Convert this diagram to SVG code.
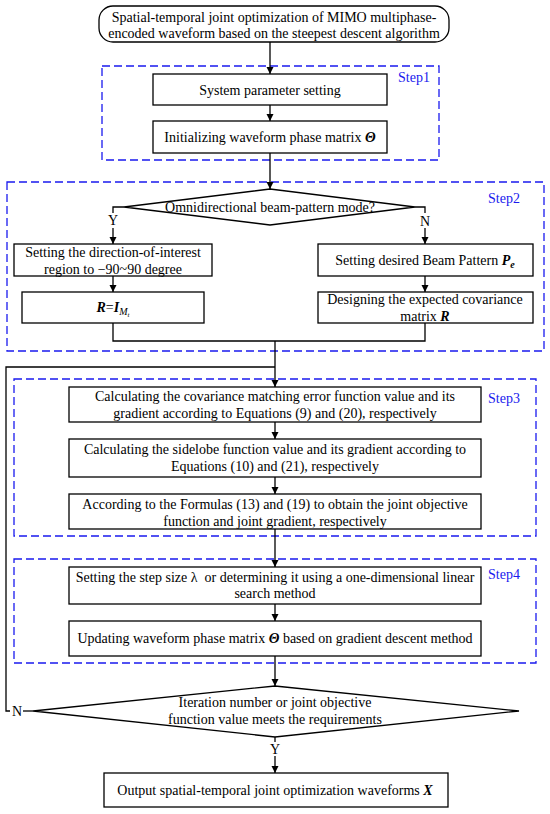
<svg xmlns="http://www.w3.org/2000/svg" width="550" height="814" viewBox="0 0 550 814">
<style>
text{font-family:"Liberation Serif","Times New Roman",serif;font-size:14px;fill:#000;text-anchor:middle}
.box{fill:#fff;stroke:#000;stroke-width:1.3}
.step{fill:none;stroke:#1a1aee;stroke-width:1.3;stroke-dasharray:8,4}
.lbl{fill:#1a1aee;font-size:14px}
.ln{fill:none;stroke:#000;stroke-width:1.3}
.bi{font-weight:bold;font-style:italic}
.it{font-style:italic}
</style>
<defs>
<marker id="ah" viewBox="0 0 10 10" refX="10" refY="5" markerWidth="7" markerHeight="8" markerUnits="userSpaceOnUse" orient="auto">
<path d="M0,0 L10,5 L0,10 z" fill="#000"/>
</marker>
</defs>
<rect width="550" height="814" fill="#fff"/>
<g id="steps">
<rect class="step" x="102" y="66" width="337" height="94"/>
<text class="lbl" x="414" y="82">Step1</text>
<rect class="step" x="7" y="182" width="537" height="169"/>
<text class="lbl" x="504" y="203">Step2</text>
<rect class="step" x="14" y="379" width="522" height="157"/>
<text class="lbl" x="504" y="403">Step3</text>
<rect class="step" x="14" y="559" width="522" height="104"/>
<text class="lbl" x="504" y="579">Step4</text>
</g>
<g id="connectors">
<line class="ln" x1="270" y1="42" x2="270" y2="74" marker-end="url(#ah)"/>
<line class="ln" x1="270" y1="105" x2="270" y2="121" marker-end="url(#ah)"/>
<line class="ln" x1="270" y1="153" x2="270" y2="189" marker-end="url(#ah)"/>
<polyline class="ln" points="124,207 113,207 113,213"/>
<line class="ln" x1="113" y1="228" x2="113" y2="244" marker-end="url(#ah)"/>
<polyline class="ln" points="415,207 425,207 425,213"/>
<line class="ln" x1="425" y1="228" x2="425" y2="244" marker-end="url(#ah)"/>
<line class="ln" x1="113" y1="276" x2="113" y2="292" marker-end="url(#ah)"/>
<line class="ln" x1="425" y1="276" x2="425" y2="292" marker-end="url(#ah)"/>
<polyline class="ln" points="113,323 113,341 425,341 425,323"/>
<line class="ln" x1="275" y1="341" x2="275" y2="387" marker-end="url(#ah)"/>
<polyline class="ln" points="10,711 6,711 6,367 275,367"/>
<line class="ln" x1="23" y1="711" x2="33" y2="711"/>
<line class="ln" x1="275" y1="422" x2="275" y2="439" marker-end="url(#ah)"/>
<line class="ln" x1="275" y1="477" x2="275" y2="494" marker-end="url(#ah)"/>
<line class="ln" x1="275" y1="529" x2="275" y2="567" marker-end="url(#ah)"/>
<line class="ln" x1="275" y1="604" x2="275" y2="621" marker-end="url(#ah)"/>
<line class="ln" x1="275" y1="656" x2="275" y2="686" marker-end="url(#ah)"/>
<line class="ln" x1="275" y1="737" x2="275" y2="742"/>
<line class="ln" x1="275" y1="756" x2="275" y2="773" marker-end="url(#ah)"/>
<text x="113" y="225">Y</text>
<text x="425" y="226">N</text>
<text x="17" y="716">N</text>
<text x="275" y="754">Y</text>
</g>
<g id="start">
<rect class="box" x="99" y="6" width="350" height="36" rx="14" ry="14"/>
<text x="274" y="22">Spatial-temporal joint optimization of MIMO multiphase-</text>
<text x="274" y="38">encoded waveform based on the steepest descent algorithm</text>
</g>
<g id="sysparam">
<rect class="box" x="153" y="74" width="234" height="31"/>
<text x="270" y="95">System parameter setting</text>
</g>
<g id="init">
<rect class="box" x="153" y="121" width="234" height="32"/>
<text x="270" y="142">Initializing waveform phase matrix <tspan class="bi">Θ</tspan></text>
</g>
<g id="omni">
<polygon class="box" points="124,207 270,189 415,207 270,225"/>
<text x="270" y="212">Omnidirectional beam-pattern mode?</text>
</g>
<g id="doi">
<rect class="box" x="14" y="244" width="198" height="32"/>
<text x="113" y="257">Setting the direction-of-interest</text>
<text x="113" y="274">region to −90~90 degree</text>
</g>
<g id="rim">
<rect class="box" x="22" y="292" width="182" height="31"/>
<text x="113" y="312"><tspan class="bi">R</tspan>=<tspan class="bi">I</tspan><tspan class="it" font-size="10" dy="3">M</tspan><tspan class="it" font-size="7" dy="2">t</tspan></text>
</g>
<g id="beampattern">
<rect class="box" x="318" y="244" width="215" height="32"/>
<text x="425" y="265">Setting desired Beam Pattern <tspan class="bi">P</tspan><tspan class="bi" font-size="10" dy="3">e</tspan></text>
</g>
<g id="covmatrix">
<rect class="box" x="318" y="292" width="215" height="31"/>
<text x="425" y="304">Designing the expected covariance</text>
<text x="425" y="321">matrix <tspan class="bi">R</tspan></text>
</g>
<g id="calc1">
<rect class="box" x="69" y="387" width="412" height="35"/>
<text x="275" y="401">Calculating the covariance matching error function value and its</text>
<text x="275" y="418">gradient according to Equations (9) and (20), respectively</text>
</g>
<g id="calc2">
<rect class="box" x="69" y="439" width="412" height="38"/>
<text x="275" y="454">Calculating the sidelobe function value and its gradient according to</text>
<text x="275" y="471">Equations (10) and (21), respectively</text>
</g>
<g id="calc3">
<rect class="box" x="69" y="494" width="412" height="35"/>
<text x="275" y="509">According to the Formulas (13) and (19) to obtain the joint objective</text>
<text x="275" y="526">function and joint gradient, respectively</text>
</g>
<g id="stepsize">
<rect class="box" x="69" y="567" width="412" height="37"/>
<text x="275" y="582">Setting the step size λ&#160; or determining it using a one-dimensional linear</text>
<text x="275" y="598">search method</text>
</g>
<g id="update">
<rect class="box" x="69" y="621" width="412" height="35"/>
<text x="275" y="643">Updating waveform phase matrix <tspan class="bi">Θ</tspan> based on gradient descent method</text>
</g>
<g id="check">
<polygon class="box" points="33,711 275,686 519,711 275,737"/>
<text x="275" y="707">Iteration number or joint objective</text>
<text x="275" y="724">function value meets the requirements</text>
</g>
<g id="output">
<rect class="box" x="104" y="773" width="344" height="34"/>
<text x="275" y="795">Output spatial-temporal joint optimization waveforms <tspan class="bi">X</tspan></text>
</g>
</svg>
